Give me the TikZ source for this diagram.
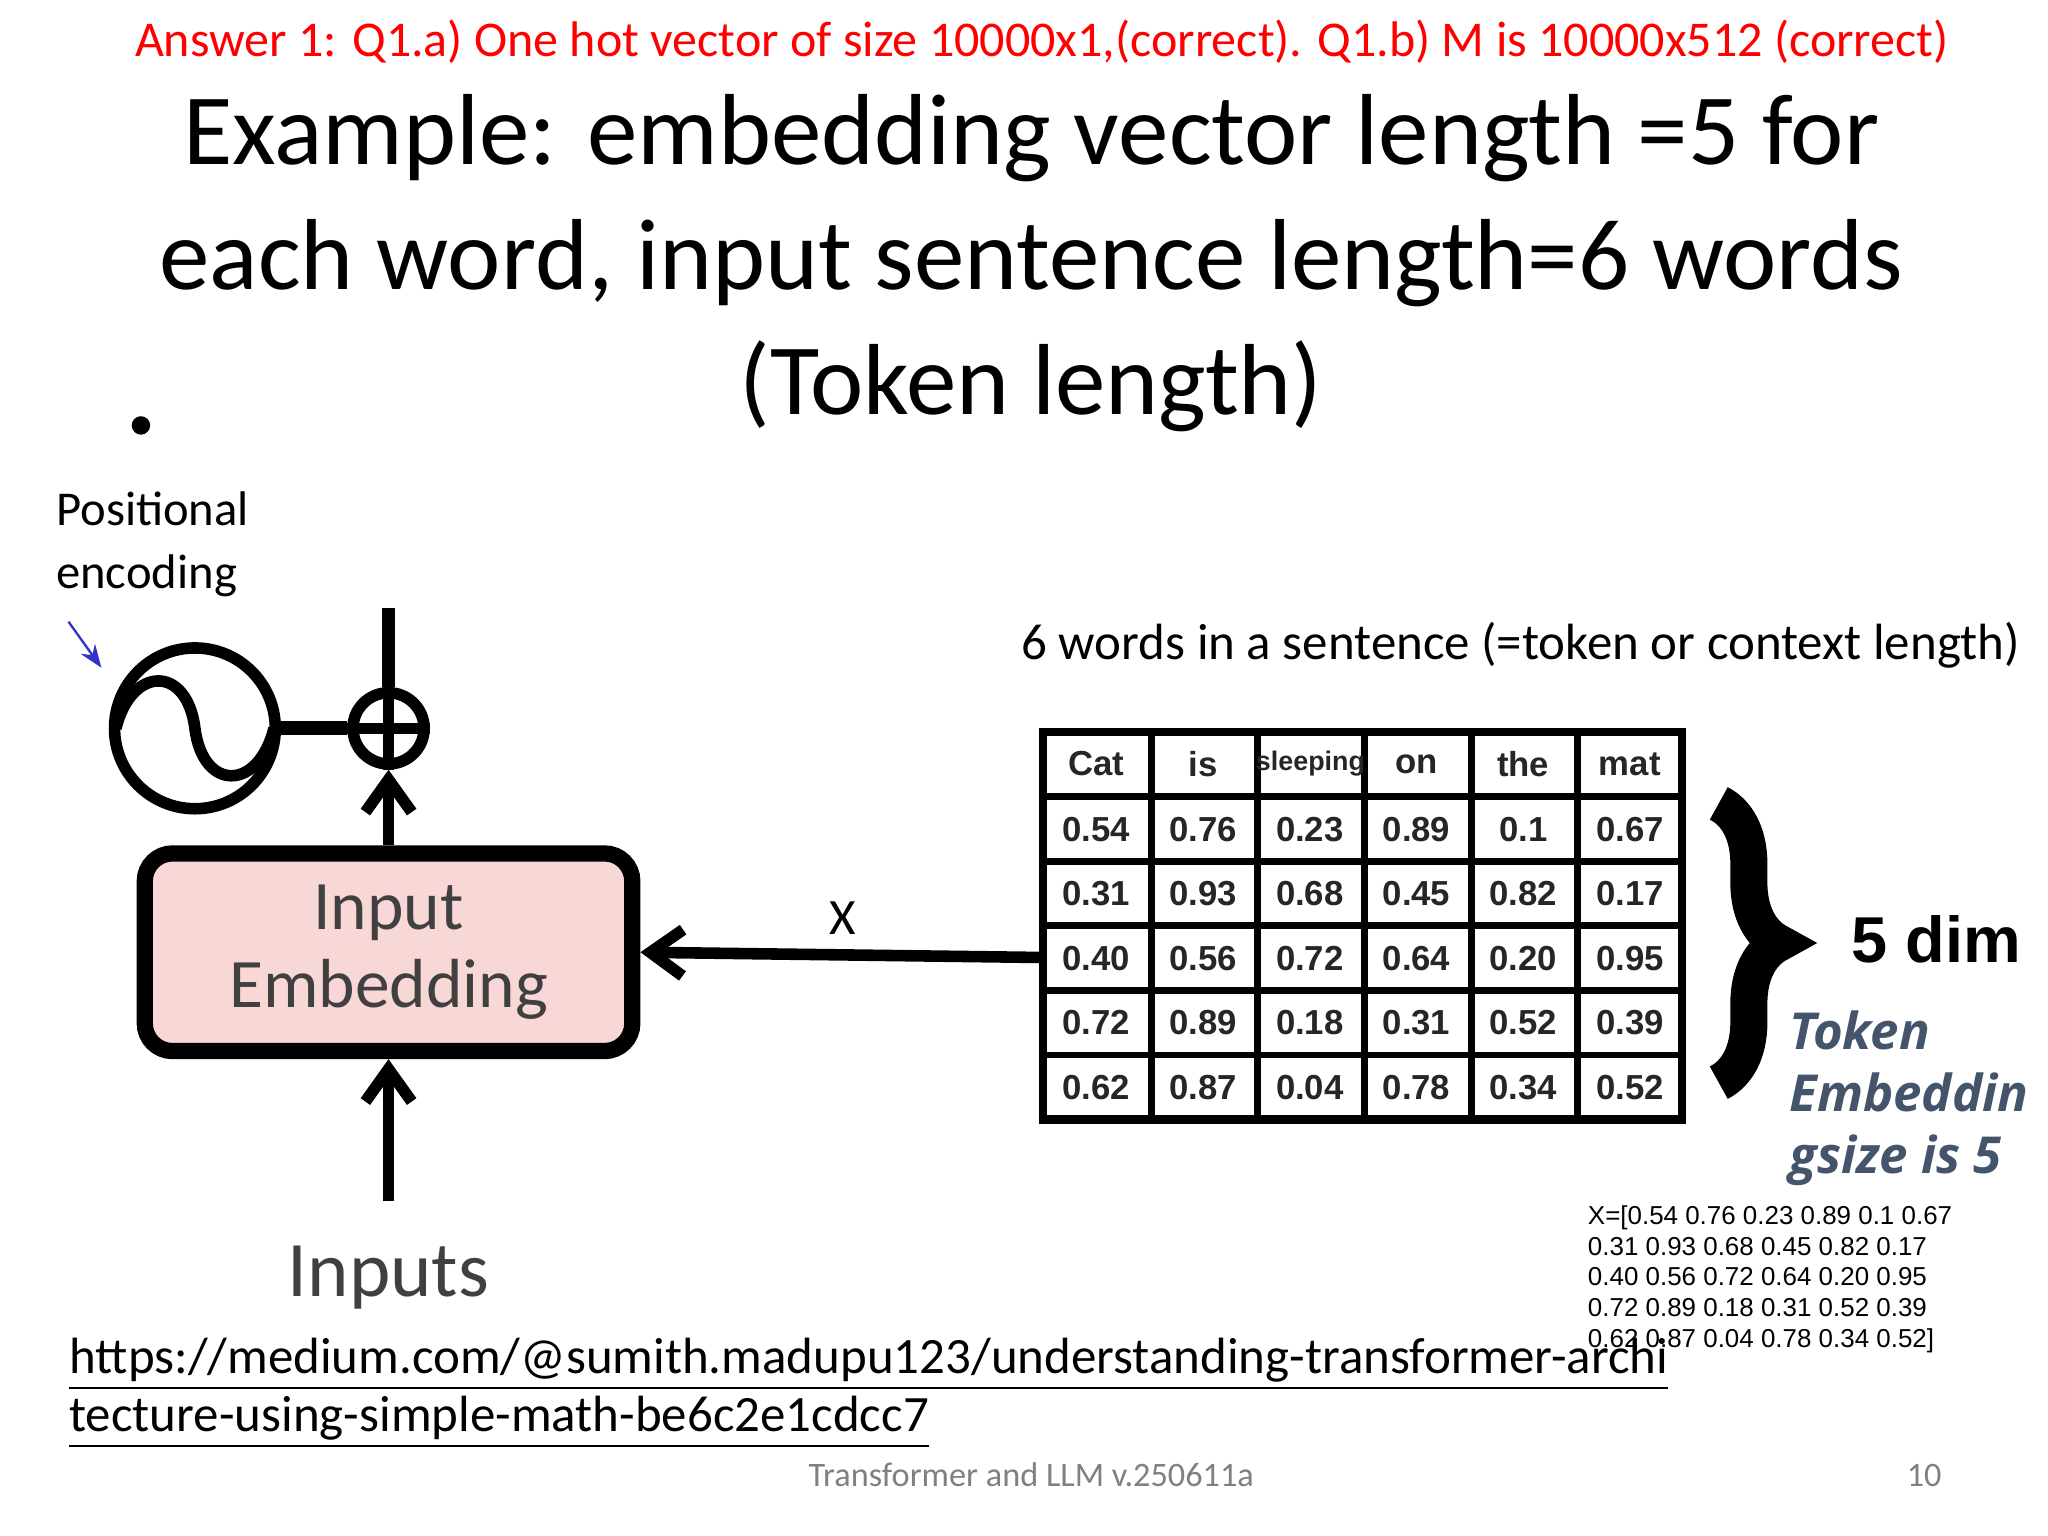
\documentclass[tikz,border=0pt]{standalone}
\usepackage{fontspec}
\setmainfont{Carlito}
\newfontfamily\arial{Liberation Sans}
\newfontfamily\opensans{Open Sans}
\usetikzlibrary{arrows.meta,decorations.pathreplacing}
\definecolor{tok}{HTML}{44546A}
\definecolor{pinkbox}{HTML}{F8D7D7}
\tikzset{cell/.style={font=\arial\bfseries\fontsize{7.5}{9}\selectfont,text=black!85},
 arr/.style={-{Straight Barb[length=7pt,width=10pt]},line width=2.5pt}}
\begin{document}
\begin{tikzpicture}[x=0.01cm,y=-0.01cm]
\useasboundingbox (0,0) rectangle (1555,1166);
\node[text=red,font=\fontsize{10.8}{12}\selectfont] (ans) at (791,32) {Answer 1: Q1.a) One hot vector of size 10000x1,(correct). Q1.b) M is 10000x512 (correct)};
\node[align=center,font=\fontsize{21.8}{27}\selectfont] (title) at (783,200) {Example: embedding vector length =5 for\\each word, input sentence length=6 words\\(Token length)};
\fill (107,323) circle (7);
\node[anchor=north west,align=left,font=\fontsize{10.5}{13.5}\selectfont,inner sep=0] (pe) at (42,373) {Positional\\encoding};
\coordinate (pa) at (52,472); \coordinate (pb) at (77,507);
\draw[-{Stealth[length=5pt]},color=blue!60!gray,line width=0.5pt] (pa) -- (pb);
% sine circle
\node[circle,draw,line width=2.5pt,minimum size=1.22cm,inner sep=0] (sin) at (148,553) {};
\draw[line width=2.5pt] (88,553) .. controls (100,505) and (142,505) .. (148,553) .. controls (154,601) and (196,601) .. (208,553);
\node[circle,draw,line width=2.5pt,minimum size=0.54cm,inner sep=0] (plus) at (295,553) {};
\draw[line width=2.5pt] (plus.north) -- (plus.south) (plus.west) -- (plus.east);
\draw[line width=3pt] (sin.east) -- (plus.west);
\coordinate (top) at (295,462);
\draw[line width=3pt] (plus.north) -- (top);
\node[draw,line width=3.5pt,rounded corners=6,fill=pinkbox,minimum width=3.7cm,minimum height=1.5cm,align=center,text=black!75,font=\fontsize{15}{17}\selectfont] (emb) at (295,723) {Input\\Embedding};
\draw[arr] (emb.north) -- (plus.south);
\node[text=black!75,font=\fontsize{17}{20}\selectfont] (inp) at (295,970) {Inputs};
\coordinate (ib) at (295,912);
\draw[arr] (ib) -- (emb.south);
% table
\draw[line width=1.8pt] (792,556) rectangle (1277,850);
\foreach \x in {874,955,1036,1117,1198} \draw[line width=1.5pt] (\x,556) -- (\x,850);
\foreach \y in {605,654,703,752,801} \draw[line width=1.5pt] (792,\y) -- (1277,\y);
\foreach \t [count=\i from 0] in {Cat,is,{},on,the,mat}
  \node[cell] at ({832.5+81*\i},580) {\t};
\node[cell,font=\arial\bfseries\fontsize{5.8}{7}\selectfont] at (995,580) {sleeping};
\foreach \r [count=\j from 1] in {{0.54,0.76,0.23,0.89,0.1,0.67},{0.31,0.93,0.68,0.45,0.82,0.17},{0.40,0.56,0.72,0.64,0.20,0.95},{0.72,0.89,0.18,0.31,0.52,0.39},{0.62,0.87,0.04,0.78,0.34,0.52}}
  \foreach \v [count=\i from 0] in \r
    \node[cell] at ({832.5+81*\i},{580.5+49*\j}) {\v};
\coordinate (tl) at (792,727);
\draw[arr] (tl) -- (emb.east);
\node[font=\fontsize{11}{13}\selectfont] (xl) at (640,697) {X};
\node[anchor=west,font=\fontsize{11}{13}\selectfont,inner sep=0] (six) at (775,490) {6 words in a sentence (=token or context length)};
\draw[decorate,decoration={brace,amplitude=13pt},line width=8pt] (1305,610) -- (1305,822);
\node[anchor=west,font=\arial\bfseries\fontsize{14}{16}\selectfont,inner sep=0] (dim) at (1405,713) {5 dim};
\node[anchor=north west,align=left,text=tok,font=\opensans\bfseries\itshape\fontsize{11}{13.4}\selectfont,inner sep=0] (te) at (1358,767) {Token\\Embeddin\\gsize is 5};
\node[anchor=north west,align=left,font=\arial\fontsize{5.6}{6.6}\selectfont,inner sep=0] (xv) at (1205,915) {X=[0.54 0.76 0.23 0.89 0.1 0.67\\0.31 0.93 0.68 0.45 0.82 0.17\\0.40 0.56 0.72 0.64 0.20 0.95\\0.72 0.89 0.18 0.31 0.52 0.39\\0.62 0.87 0.04 0.78 0.34 0.52]};
\node[anchor=north west,align=left,font=\fontsize{11}{11.4}\selectfont,inner sep=0] (url) at (52,1015) {\underline{https://medium.com/@sumith.madupu123/understanding-transformer-archi}\\\underline{tecture-using-simple-math-be6c2e1cdcc7}};
\node[text=black!50,font=\fontsize{7.4}{8}\selectfont] (foot) at (783,1120) {Transformer and LLM v.250611a};
\node[text=black!50,font=\fontsize{7.4}{8}\selectfont] (pg) at (1461,1120) {10};
\end{tikzpicture}
\end{document}
